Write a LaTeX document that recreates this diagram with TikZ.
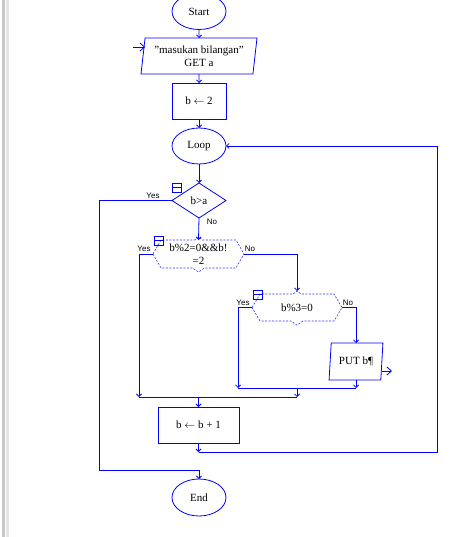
\documentclass[tikz,border=0pt]{standalone}
\usepackage{fontspec}
\setmainfont{Liberation Serif}
\newfontfamily\yesnofont{Liberation Sans}
\usetikzlibrary{shapes.geometric,arrows.meta}

\tikzset{
	flowline/.style={draw=blue, line width=0.8pt},
	flowtip/.style={flowline, -{Straight Barb[length=2.5pt,width=5pt]}},
	flowbigtip/.style={flowline, -{Straight Barb[length=4.5pt,width=8pt]}},
	term/.style={flowline, ellipse, minimum width=54, minimum height=36, inner sep=0, outer sep=0, font=\fontsize{11}{13}\selectfont},
	proc/.style={flowline, rectangle, inner sep=0, outer sep=0, font=\fontsize{11}{13}\selectfont},
	io/.style={flowline, trapezium, trapezium left angle=80.5, trapezium right angle=99.5, trapezium stretches=true, inner sep=0, outer sep=0, align=center, font=\fontsize{11}{12.5}\selectfont},
	ifbox/.style={inner sep=0, outer sep=0, align=center, font=\fontsize{11}{13}\selectfont},
	hexline/.style={draw=blue!80, line width=0.6pt, dash pattern=on 2pt off 1.5pt},
	foldline/.style={draw=blue, line width=0.7pt},
	yesno/.style={inner sep=0, font=\yesnofont\fontsize{8}{9}\selectfont},
}
\def\foldmark(#1,#2){\draw[foldline] (#1,#2) rectangle ++(9,9) (#1,#2+4.5) -- ++(9,0);}
\def\ifoutline(#1){\draw[hexline] (#1.west) -- ([xshift=8]#1.north west) -- ([xshift=-4]#1.north) -- ([yshift=3]#1.north) -- ([xshift=4]#1.north) -- ([xshift=-8]#1.north east) -- (#1.east) -- ([xshift=-8]#1.south east) -- ([xshift=6]#1.south) -- ([yshift=-4]#1.south) -- ([xshift=-6]#1.south) -- ([xshift=8]#1.south west) -- cycle;}

\begin{document}
\begin{tikzpicture}[x=1pt, y=-1pt]
	\useasboundingbox (0,0) rectangle (474,537);
	
	%%%%% frame strips %%%%%
	\fill[black!22] (2,0) rectangle (5,537);
	\fill[black!10] (6,0) rectangle (9,537);
	
	%%%%% nodes %%%%%
	\node[term] (start) at (199,11.5) {Start};
	\node[io, minimum width=117, minimum height=36] (input) at (199,56) {\char"22 masukan bilangan\char"22\\GET a};
	\node[proc, minimum width=54, minimum height=36] (init) at (199,101) {b $\leftarrow$ 2};
	\node[term] (loop) at (199,146) {Loop};
	\node[flowline, diamond, aspect=1.5, minimum width=54, minimum height=35, inner sep=0, outer sep=0, font=\fontsize{11}{13}\selectfont] (test) at (199,200.5) {b>a};
	\node[ifbox, minimum width=91, minimum height=28] (even) at (198.5,254) {b\%2=0\&\&b!\\=2};
	\node[ifbox, minimum width=90, minimum height=27] (three) at (297,307.5) {b\%3=0};
	\node[io, trapezium left angle=80.8, trapezium right angle=99.2, minimum width=54, minimum height=37] (put) at (356,361.5) {PUT b¶};
	\node[proc, minimum width=81, minimum height=36] (incr) at (198.5,425) {b $\leftarrow$ b + 1};
	\node[term, minimum height=37] (end) at (199,497.5) {End};
	
	\ifoutline(even)
	\ifoutline(three)
	
	\foldmark(172,183)
	\foldmark(154,236)
	\foldmark(253,290)
	
	%%%%% free ends %%%%%
	\coordinate (entry) at (133,47);
	\coordinate (exit) at (392,371);
	\coordinate (outcorner) at (99,470);
	\coordinate (joinA) at (238,388);
	\coordinate (joinB) at (139,397);
	\coordinate (back) at (437,452);
	
	%%%%% connectors %%%%%
	\draw[flowbigtip] (entry) -- (entry -| input.top left corner);
	\draw[flowtip] (start) -- (input.north);
	\draw[flowtip] (input.south) -- (init);
	\draw[flowtip] (init) -- (loop);
	\draw[flowtip] (loop) -- (test);
	
	\draw[flowtip] (test.west) -| (outcorner) -| (end.north);
	\draw[flowtip] (test.south) -- (even.north);
	
	\draw[flowtip] (even.west) -| (joinB);
	\draw[flowtip] (even.east) -| ([yshift=3]three.north);
	
	\draw[flowtip] (three.west) -| (joinA);
	\draw[flowtip] (three.east) -| (put.north);
	\draw[flowbigtip] (exit -| put.east) -- (exit);
	\draw[flowtip] (put.south) -- (put.south |- joinA);
	
	\draw[flowline] (joinA) -- (put.south |- joinA);
	\draw[flowtip] (three.south |- joinA) -- (three.south |- joinB);
	\draw[flowline] (joinB) -- (three.south |- joinB);
	\draw[flowtip] (incr.north |- joinB) -- (incr.north);
	
	\draw[flowtip] (incr.south) -- (incr.south |- back);
	\draw[flowtip] (incr.south |- back) -- (back) |- (loop.east);
	
	%%%%% labels %%%%%
	\node[yesno] (yesA) at (153,196) {Yes};
	\node[yesno] (noA) at (212,222) {No};
	\node[yesno] (yesB) at (144,249) {Yes};
	\node[yesno] (noB) at (250,249) {No};
	\node[yesno] (yesC) at (243,302.5) {Yes};
	\node[yesno] (noC) at (348,302.5) {No};
\end{tikzpicture}
\end{document}
